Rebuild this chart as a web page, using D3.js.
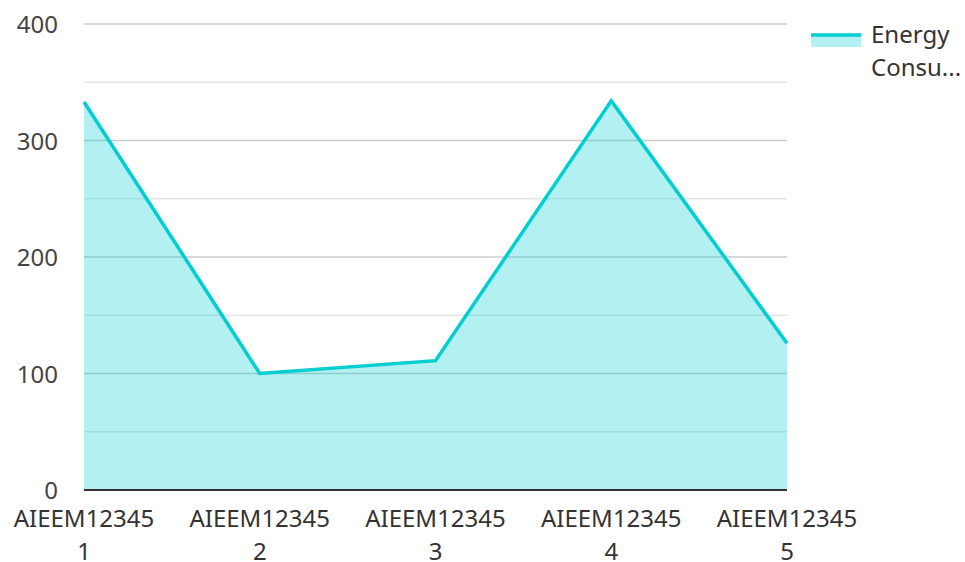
<!DOCTYPE html>
<html><head><meta charset="utf-8">
<script src="https://cdn.jsdelivr.net/npm/d3@7"></script>
<style>body{margin:0;background:#fff;} text{font-family:"Noto Sans",sans-serif;}</style>
</head><body>
<svg id="c" width="965" height="562"></svg>
<script>
const categories = ["AIEEM123451","AIEEM123452","AIEEM123453","AIEEM123454","AIEEM123455"];
const labelLines = [["AIEEM12345","1"],["AIEEM12345","2"],["AIEEM12345","3"],["AIEEM12345","4"],["AIEEM12345","5"]];
const values = [333, 100, 111, 334, 126];
const yTicks = [0,100,200,300,400];
const yMinor = [50,150,250,350];
const seriesName = "Energy Consumption";
const legendLines = ["Energy","Consu..."];

const color = "#00CED1";
const svg = d3.select("#c");
const m = {l:84, r:787, t:24, b:490};
const x = d3.scalePoint().domain(categories).range([m.l, m.r]);
const y = d3.scaleLinear().domain([0,400]).range([m.b, m.t]);
const fs = 24;

const g = svg.append("g");
g.selectAll(".minor").data(yMinor).enter().append("line")
  .attr("x1",m.l).attr("x2",m.r).attr("y1",d=>y(d)).attr("y2",d=>y(d))
  .attr("stroke","#e6e6e6").attr("stroke-width",1.5);
g.selectAll(".major").data(yTicks.filter(d=>d>0)).enter().append("line")
  .attr("x1",m.l).attr("x2",m.r).attr("y1",d=>y(d)).attr("y2",d=>y(d))
  .attr("stroke","#cccccc").attr("stroke-width",1.5);

const area = d3.area().x((d,i)=>x(categories[i])).y0(y(0)).y1(d=>y(d));
const line = d3.line().x((d,i)=>x(categories[i])).y(d=>y(d));
svg.append("path").datum(values).attr("d",area).attr("fill",color).attr("fill-opacity",0.3);
svg.append("path").datum(values).attr("d",line).attr("fill","none").attr("stroke",color).attr("stroke-width",3.5);

svg.append("line").attr("x1",m.l).attr("x2",m.r).attr("y1",y(0)).attr("y2",y(0))
  .attr("stroke","#333").attr("stroke-width",2);

svg.selectAll(".yl").data(yTicks).enter().append("text")
  .attr("x",58).attr("y",d=>y(d)+9).attr("text-anchor","end")
  .attr("font-size",fs).attr("fill","#444").text(d=>d);

const xl = svg.selectAll(".xl").data(categories).enter().append("text")
  .attr("x",d=>x(d)).attr("y",527).attr("text-anchor","middle")
  .attr("font-size",fs).attr("fill","#333");
xl.each(function(d,i){
  const t = d3.select(this);
  labelLines[i].forEach((s,j)=>{
    t.append("tspan").attr("x",x(d)).attr("dy",j===0?0:33).text(s);
  });
});

const lg = svg.append("g");
lg.append("rect").attr("x",811).attr("y",34).attr("width",50).attr("height",13).attr("fill",color).attr("fill-opacity",0.3);
lg.append("line").attr("x1",811).attr("x2",861).attr("y1",35).attr("y2",35).attr("stroke",color).attr("stroke-width",3.5);
const lt = lg.append("text").attr("x",871).attr("y",43).attr("font-size",fs).attr("fill","#333");
legendLines.forEach((s,j)=>lt.append("tspan").attr("x",871).attr("dy",j===0?0:33).text(s));
lt.append("title").text(seriesName);
</script>
</body></html>
